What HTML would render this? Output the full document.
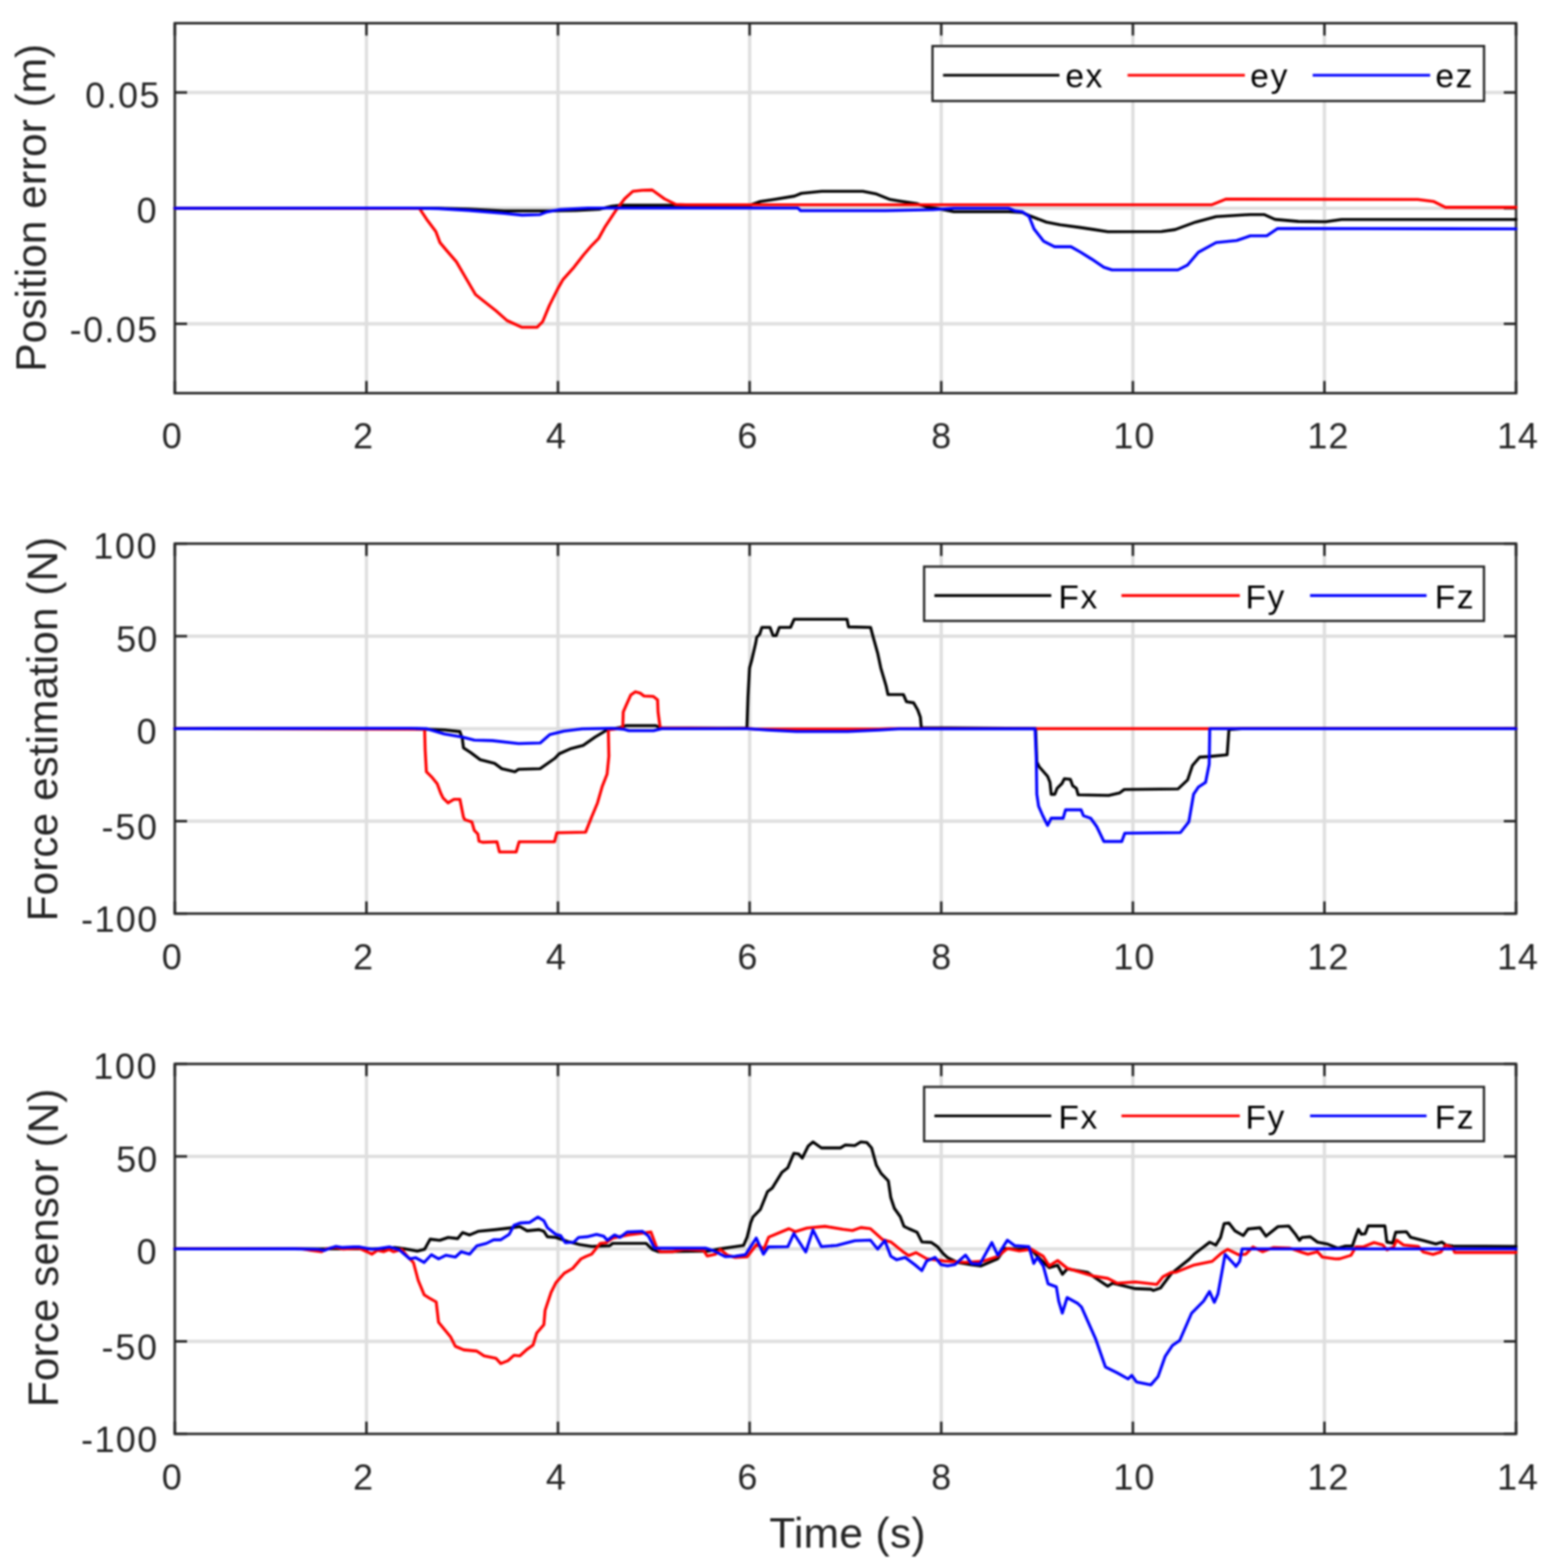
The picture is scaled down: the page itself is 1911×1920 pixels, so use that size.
<!DOCTYPE html><html><head><meta charset="utf-8"><title>Position error and force plots</title><style>html,body{margin:0;padding:0;background:#fff;overflow:hidden}svg{display:block}text{font-family:"Liberation Sans", Arial, Helvetica, sans-serif;fill:#262626}svg{filter:blur(0.8px)}</style></head><body>
<svg width="1911" height="1920" viewBox="0 0 1911 1920">
<rect width="1911" height="1920" fill="#fff"/>
<path d="M448.6 28.4V481.4M683.1 28.4V481.4M917.7 28.4V481.4M1152.3 28.4V481.4M1386.9 28.4V481.4M1621.4 28.4V481.4M214.0 113.3H1856.0M214.0 254.9H1856.0M214.0 396.5H1856.0" stroke="#dedede" stroke-width="4.0" fill="none"/>
<path d="M214.0 481.4V466.4M214.0 28.4V43.4M448.6 481.4V466.4M448.6 28.4V43.4M683.1 481.4V466.4M683.1 28.4V43.4M917.7 481.4V466.4M917.7 28.4V43.4M1152.3 481.4V466.4M1152.3 28.4V43.4M1386.9 481.4V466.4M1386.9 28.4V43.4M1621.4 481.4V466.4M1621.4 28.4V43.4M1856.0 481.4V466.4M1856.0 28.4V43.4M214.0 113.3H229.0M1856.0 113.3H1841.0M214.0 254.9H229.0M1856.0 254.9H1841.0M214.0 396.5H229.0M1856.0 396.5H1841.0" stroke="#262626" stroke-width="3.0" fill="none"/>
<rect x="214.0" y="28.4" width="1642.0" height="453.0" fill="none" stroke="#262626" stroke-width="3.0"/>
<path d="M214.0 255.0L520.0 255.0L536.6 255.0L573.3 256.1L617.2 258.3L675.8 258.3L705.1 257.6L734.4 256.1L749.0 252.5L760.0 251.3L919.0 251.0L930.7 246.8L947.4 244.3L972.6 240.1L981.0 236.8L1006.0 234.3L1056.3 234.3L1073.0 237.6L1089.8 244.3L1100.0 246.0L1121.9 249.3L1134.2 253.4L1150.9 255.9L1167.7 259.3L1234.7 259.3L1251.4 260.1L1260.0 264.0L1281.0 272.0L1297.7 275.3L1322.8 278.6L1339.5 281.1L1356.3 283.7L1421.9 283.5L1438.6 281.1L1463.7 271.9L1488.8 265.2L1530.7 262.7L1547.4 262.7L1560.8 268.6L1589.3 271.1L1622.8 271.5L1642.4 268.7L1856.0 268.7" fill="none" stroke="#000000" stroke-width="3.6" stroke-linejoin="round" stroke-linecap="round"/>
<path d="M214.0 255.0L513.5 255.3L523.5 270.2L533.6 283.6L538.6 297.0L547.0 307.0L558.7 320.5L570.4 340.6L582.1 360.7L590.5 367.4L607.3 380.7L620.7 392.5L639.1 400.8L657.5 400.8L664.2 394.1L672.6 374.0L682.6 354.0L689.3 342.2L702.7 327.2L714.4 312.1L724.5 300.4L732.8 292.0L741.2 276.9L754.6 256.8L764.7 243.4L774.7 234.2L786.4 233.0L798.4 232.6L813.5 243.5L826.9 250.2L840.0 250.8L1483.8 250.7L1500.6 243.8L1735.6 244.2L1755.4 246.8L1769.5 253.9L1856.0 253.9" fill="none" stroke="#ff0000" stroke-width="3.6" stroke-linejoin="round" stroke-linecap="round"/>
<path d="M214.0 255.0L500.0 254.7L536.6 255.4L573.3 257.6L617.2 261.2L639.2 263.4L661.2 262.7L668.5 259.8L683.2 256.9L719.8 254.8L976.8 254.7L980.0 258.0L1084.0 258.0L1142.6 256.7L1167.7 255.0L1234.7 255.0L1243.0 258.4L1251.4 259.3L1259.8 265.1L1265.9 280.3L1277.6 295.4L1291.0 302.1L1311.1 302.1L1322.8 308.8L1336.2 317.1L1351.3 327.2L1361.3 330.5L1442.0 330.5L1453.7 324.7L1467.1 308.8L1488.8 297.0L1514.0 294.5L1530.7 288.7L1550.8 288.7L1564.2 279.8L1856.0 280.3" fill="none" stroke="#0000ff" stroke-width="3.6" stroke-linejoin="round" stroke-linecap="round"/>
<rect x="1141.6" y="56.4" width="675.2" height="67.3" fill="#fff" stroke="#262626" stroke-width="2.8"/>
<path d="M1154.5 92.1H1297.0" stroke="#000000" stroke-width="3.4"/>
<path d="M1380.4 92.1H1524.0" stroke="#ff0000" stroke-width="3.4"/>
<path d="M1607.0 92.1H1750.8" stroke="#0000ff" stroke-width="3.4"/>
<path d="M448.6 665.7V1118.7M683.1 665.7V1118.7M917.7 665.7V1118.7M1152.3 665.7V1118.7M1386.9 665.7V1118.7M1621.4 665.7V1118.7M214.0 779.0H1856.0M214.0 892.2H1856.0M214.0 1005.5H1856.0" stroke="#dedede" stroke-width="4.0" fill="none"/>
<path d="M214.0 1118.7V1103.7M214.0 665.7V680.7M448.6 1118.7V1103.7M448.6 665.7V680.7M683.1 1118.7V1103.7M683.1 665.7V680.7M917.7 1118.7V1103.7M917.7 665.7V680.7M1152.3 1118.7V1103.7M1152.3 665.7V680.7M1386.9 1118.7V1103.7M1386.9 665.7V680.7M1621.4 1118.7V1103.7M1621.4 665.7V680.7M1856.0 1118.7V1103.7M1856.0 665.7V680.7M214.0 665.7H229.0M1856.0 665.7H1841.0M214.0 779.0H229.0M1856.0 779.0H1841.0M214.0 892.2H229.0M1856.0 892.2H1841.0M214.0 1005.5H229.0M1856.0 1005.5H1841.0M214.0 1118.7H229.0M1856.0 1118.7H1841.0" stroke="#262626" stroke-width="3.0" fill="none"/>
<rect x="214.0" y="665.7" width="1642.0" height="453.0" fill="none" stroke="#262626" stroke-width="3.0"/>
<path d="M214.0 892.2L500.0 892.0L544.0 893.7L563.0 895.9L565.9 904.0L567.4 915.7L576.2 921.5L587.9 930.3L605.5 934.7L614.3 941.3L630.4 945.0L634.8 942.0L661.2 941.3L678.8 928.9L684.6 923.0L697.8 917.1L713.9 912.7L728.6 902.5L743.2 893.7L763.0 890.0L766.0 888.5L803.0 888.5L808.0 891.5L914.4 891.5L915.7 853.0L917.6 817.9L920.1 809.1L925.1 787.7L926.4 780.2L930.1 776.4L932.7 768.3L942.7 768.3L946.5 778.3L950.2 778.3L954.0 768.3L967.8 768.3L972.2 758.2L1036.9 758.2L1038.8 767.6L1065.8 768.3L1068.3 777.7L1074.6 800.3L1078.3 817.9L1084.6 839.2L1087.1 850.5L1106.0 850.5L1109.7 859.3L1118.5 860.6L1123.5 869.4L1126.7 878.1L1127.9 891.0L1267.8 892.0L1269.3 933.0L1272.2 938.9L1282.5 950.6L1285.4 957.9L1286.9 972.6L1291.3 972.6L1294.2 965.2L1300.1 959.4L1303.0 953.5L1310.3 954.2L1313.3 962.3L1317.7 965.2L1319.9 973.3L1357.2 974.0L1370.4 971.1L1376.3 966.7L1442.2 966.0L1453.9 955.0L1459.8 937.4L1468.6 927.1L1480.3 926.4L1502.3 924.2L1504.5 893.4L1520.0 892.2L1856.0 892.2" fill="none" stroke="#000000" stroke-width="3.6" stroke-linejoin="round" stroke-linecap="round"/>
<path d="M214.0 892.2L519.8 893.0L520.5 918.6L522.0 945.0L529.3 952.3L535.2 959.6L539.6 971.4L542.5 977.2L548.4 983.1L555.7 978.7L563.0 978.7L567.4 1000.7L568.9 1003.6L577.7 1006.5L580.6 1016.8L585.0 1021.2L586.4 1030.0L590.8 1031.4L608.4 1030.7L611.4 1043.2L631.9 1043.2L635.5 1030.7L678.8 1030.7L681.7 1019.7L716.9 1019.0L724.2 1000.7L731.5 983.1L737.4 962.6L743.2 947.9L745.4 925.9L744.7 893.7L762.4 891.4L763.0 871.8L766.5 863.7L772.2 851.1L778.0 847.1L783.7 848.8L788.4 852.2L799.9 852.8L805.0 856.8L805.6 871.8L807.9 889.1L809.0 891.4L915.0 892.0L925.0 892.8L1076.0 892.8L1090.0 892.2L1856.0 892.2" fill="none" stroke="#ff0000" stroke-width="3.6" stroke-linejoin="round" stroke-linecap="round"/>
<path d="M214.0 892.2L500.0 891.8L522.0 892.2L544.0 898.8L565.9 902.5L580.6 906.2L602.6 906.9L634.8 910.5L661.2 909.8L672.9 899.6L690.5 895.2L712.5 892.5L749.1 891.8L763.7 893.0L770.0 894.8L800.0 894.8L810.0 892.2L915.0 892.2L940.0 894.0L975.0 895.8L1038.0 895.8L1076.0 894.0L1100.0 892.5L1267.1 892.2L1268.6 928.6L1269.3 972.6L1271.5 987.2L1276.6 998.9L1282.5 1010.7L1286.9 1001.9L1301.5 1001.9L1304.5 991.6L1323.5 991.6L1326.4 998.9L1335.2 1001.9L1342.6 1012.1L1351.4 1030.4L1373.3 1030.4L1377.0 1020.2L1445.1 1019.5L1455.4 1006.3L1461.2 972.6L1467.1 963.8L1475.9 957.9L1480.3 935.9L1481.0 892.2L1856.0 892.2" fill="none" stroke="#0000ff" stroke-width="3.6" stroke-linejoin="round" stroke-linecap="round"/>
<rect x="1131.3" y="693.8" width="685.4" height="66.5" fill="#fff" stroke="#262626" stroke-width="2.8"/>
<path d="M1143.9 729.3H1287.0" stroke="#000000" stroke-width="3.4"/>
<path d="M1372.9 729.3H1517.8" stroke="#ff0000" stroke-width="3.4"/>
<path d="M1603.8 729.3H1746.4" stroke="#0000ff" stroke-width="3.4"/>
<path d="M448.6 1302.8V1755.8M683.1 1302.8V1755.8M917.7 1302.8V1755.8M1152.3 1302.8V1755.8M1386.9 1302.8V1755.8M1621.4 1302.8V1755.8M214.0 1416.0H1856.0M214.0 1529.3H1856.0M214.0 1642.5H1856.0" stroke="#dedede" stroke-width="4.0" fill="none"/>
<path d="M214.0 1755.8V1740.8M214.0 1302.8V1317.8M448.6 1755.8V1740.8M448.6 1302.8V1317.8M683.1 1755.8V1740.8M683.1 1302.8V1317.8M917.7 1755.8V1740.8M917.7 1302.8V1317.8M1152.3 1755.8V1740.8M1152.3 1302.8V1317.8M1386.9 1755.8V1740.8M1386.9 1302.8V1317.8M1621.4 1755.8V1740.8M1621.4 1302.8V1317.8M1856.0 1755.8V1740.8M1856.0 1302.8V1317.8M214.0 1302.8H229.0M1856.0 1302.8H1841.0M214.0 1416.0H229.0M1856.0 1416.0H1841.0M214.0 1529.3H229.0M1856.0 1529.3H1841.0M214.0 1642.5H229.0M1856.0 1642.5H1841.0M214.0 1755.8H229.0M1856.0 1755.8H1841.0" stroke="#262626" stroke-width="3.0" fill="none"/>
<rect x="214.0" y="1302.8" width="1642.0" height="453.0" fill="none" stroke="#262626" stroke-width="3.0"/>
<path d="M214.0 1529.3L470.0 1529.3L483.1 1527.6L494.8 1529.1L510.9 1532.0L519.7 1529.8L526.6 1517.4L538.4 1518.8L548.6 1515.2L560.3 1516.6L566.2 1509.3L575.0 1512.2L585.2 1507.8L607.2 1505.6L626.3 1503.4L636.5 1502.0L645.3 1507.1L660.0 1505.6L665.8 1507.8L670.2 1514.4L680.5 1515.2L695.1 1520.3L709.8 1524.0L724.4 1526.2L746.4 1525.4L750.0 1522.5L791.0 1522.5L798.4 1529.8L805.7 1532.7L867.2 1532.0L881.9 1529.1L900.0 1526.5L910.3 1525.0L914.7 1514.8L919.0 1497.2L922.0 1489.9L930.8 1481.1L939.6 1459.1L945.4 1454.7L957.1 1435.7L964.5 1429.8L971.8 1412.2L977.7 1413.0L982.1 1418.1L989.4 1403.4L995.2 1398.3L1005.5 1405.6L1028.9 1405.6L1034.8 1402.0L1046.5 1402.7L1053.8 1398.3L1061.2 1399.0L1067.0 1405.6L1072.9 1426.9L1078.8 1437.1L1087.5 1445.9L1090.5 1466.4L1094.9 1479.6L1102.2 1489.9L1106.6 1501.6L1112.5 1504.5L1122.7 1508.9L1128.6 1520.7L1140.3 1521.4L1147.6 1526.5L1155.0 1535.3L1160.0 1539.8L1171.7 1545.7L1189.3 1548.6L1201.0 1550.1L1221.5 1541.3L1230.3 1528.8L1247.9 1529.6L1262.6 1529.6L1269.9 1538.4L1284.5 1552.3L1294.8 1549.3L1300.7 1560.3L1306.4 1553.7L1331.3 1558.1L1343.2 1566.2L1356.2 1574.9L1362.1 1571.3L1389.9 1577.9L1408.9 1578.6L1412.0 1580.1L1420.7 1577.1L1433.8 1559.6L1455.8 1542.0L1462.0 1535.7L1481.0 1521.0L1488.4 1524.7L1494.2 1515.2L1498.6 1498.3L1504.5 1497.6L1511.8 1507.1L1522.1 1513.0L1527.9 1504.9L1542.6 1503.4L1549.9 1513.7L1564.5 1502.0L1577.7 1501.2L1586.5 1512.2L1590.9 1518.8L1593.8 1515.2L1604.1 1514.4L1612.9 1521.0L1624.6 1523.2L1637.8 1528.4L1647.2 1525.7L1655.6 1525.7L1659.3 1514.9L1662.9 1505.3L1666.5 1511.3L1671.3 1510.7L1674.9 1501.1L1695.4 1501.1L1697.8 1520.9L1705.0 1522.1L1708.6 1508.9L1721.8 1508.3L1726.7 1514.9L1742.3 1519.1L1757.9 1523.3L1765.2 1520.9L1770.0 1524.5L1778.4 1525.7L1856.0 1526.3" fill="none" stroke="#000000" stroke-width="3.6" stroke-linejoin="round" stroke-linecap="round"/>
<path d="M214.0 1529.3L370.0 1529.3L380.0 1531.0L393.7 1532.7L400.0 1529.0L411.3 1527.5L420.0 1529.5L440.0 1528.5L450.0 1533.0L455.2 1535.7L462.0 1531.0L469.9 1532.7L476.0 1530.0L481.6 1532.7L491.9 1529.8L498.8 1538.6L506.1 1545.9L512.0 1567.9L519.3 1585.5L525.2 1589.2L534.0 1594.3L536.9 1619.2L551.5 1636.8L557.4 1648.5L567.7 1652.9L583.8 1654.4L592.6 1660.2L607.2 1663.2L613.1 1669.7L621.9 1666.1L629.2 1659.5L636.5 1660.2L645.3 1652.2L652.6 1647.0L657.0 1632.4L665.8 1622.1L667.3 1604.5L674.6 1582.6L680.5 1570.8L690.7 1559.1L701.0 1553.3L711.2 1541.5L717.1 1538.6L724.4 1535.7L734.7 1522.5L742.0 1521.8L750.0 1516.0L770.0 1512.0L796.9 1508.6L804.2 1528.4L808.6 1532.7L823.3 1532.7L837.9 1529.8L861.4 1531.3L865.8 1537.9L876.0 1535.7L881.9 1529.8L890.7 1537.1L900.0 1539.7L914.7 1539.0L926.4 1523.6L935.2 1529.5L941.0 1514.8L965.9 1504.5L973.3 1508.2L987.9 1503.8L1009.9 1501.6L1031.9 1505.3L1043.6 1506.7L1053.8 1503.1L1065.6 1504.5L1080.2 1517.7L1090.5 1520.7L1105.1 1532.4L1112.5 1537.5L1121.3 1533.8L1134.4 1541.2L1156.4 1544.1L1182.0 1545.7L1204.0 1544.2L1221.5 1538.4L1233.3 1528.8L1247.9 1531.8L1262.6 1529.6L1277.2 1538.4L1284.5 1550.1L1294.8 1543.5L1306.5 1553.0L1338.6 1562.5L1356.2 1565.4L1367.9 1571.3L1389.9 1569.8L1416.3 1572.7L1423.7 1563.3L1433.8 1558.1L1440.0 1557.7L1462.0 1548.9L1484.0 1544.5L1495.7 1534.2L1503.0 1529.8L1516.2 1536.4L1525.0 1535.7L1533.8 1526.9L1545.5 1532.7L1558.7 1527.6L1579.2 1528.4L1593.8 1533.5L1601.2 1535.7L1612.9 1532.7L1618.8 1539.3L1634.9 1541.5L1640.0 1541.4L1653.9 1537.1L1659.8 1526.9L1668.6 1526.9L1682.1 1521.5L1693.0 1524.5L1697.8 1530.5L1706.2 1526.9L1709.8 1518.5L1718.2 1524.5L1736.3 1526.3L1742.3 1533.0L1754.3 1536.0L1764.0 1533.0L1770.0 1524.5L1778.4 1528.1L1780.8 1533.6L1856.0 1533.6" fill="none" stroke="#ff0000" stroke-width="3.6" stroke-linejoin="round" stroke-linecap="round"/>
<path d="M214.0 1529.3L360.0 1529.1L389.3 1529.8L396.6 1531.3L404.0 1528.4L411.3 1526.2L418.6 1527.6L433.3 1526.9L440.6 1526.9L455.2 1529.8L462.6 1529.1L477.2 1526.9L488.9 1530.5L494.8 1535.7L501.7 1541.5L509.0 1540.1L519.3 1545.9L528.1 1536.4L536.9 1541.5L545.7 1537.1L557.4 1539.3L564.7 1532.7L575.0 1535.7L583.8 1525.4L595.5 1522.5L604.3 1518.1L613.1 1518.1L623.3 1511.5L629.2 1500.5L636.5 1497.6L648.2 1496.9L658.5 1490.3L665.8 1494.7L670.2 1503.4L680.5 1511.5L686.3 1513.0L692.2 1521.8L702.5 1521.0L708.3 1515.2L718.6 1514.4L730.3 1511.5L739.1 1513.7L743.5 1518.8L752.3 1512.2L758.8 1515.2L767.6 1508.6L786.6 1507.8L794.0 1513.7L801.3 1528.4L864.3 1528.4L874.5 1532.0L887.7 1538.6L900.0 1538.2L912.6 1536.4L925.8 1515.9L934.6 1535.7L940.5 1526.9L964.5 1526.5L971.8 1510.4L986.4 1533.1L995.2 1506.0L1005.5 1526.5L1024.5 1525.0L1046.5 1519.2L1065.6 1518.5L1074.4 1529.5L1083.2 1519.2L1090.5 1538.2L1097.8 1542.6L1108.1 1539.7L1119.8 1548.5L1128.6 1555.8L1134.4 1544.1L1144.7 1539.7L1152.0 1548.5L1160.0 1550.1L1168.8 1548.6L1182.0 1536.9L1189.3 1547.1L1199.6 1547.9L1214.2 1521.5L1221.5 1536.9L1233.3 1518.6L1242.1 1525.2L1259.6 1526.6L1265.5 1547.1L1269.9 1539.8L1277.2 1550.1L1283.1 1572.0L1293.2 1575.7L1296.1 1593.3L1300.5 1607.9L1306.4 1588.9L1319.6 1596.2L1324.0 1600.6L1341.5 1640.1L1353.3 1673.8L1367.9 1681.2L1381.1 1688.5L1385.5 1684.1L1391.4 1692.2L1408.9 1695.8L1417.7 1685.6L1426.5 1660.7L1435.3 1647.5L1444.1 1641.6L1458.8 1607.9L1473.4 1593.3L1480.7 1581.5L1486.6 1594.7L1491.0 1584.5L1499.8 1536.1L1511.8 1548.9L1513.0 1550.8L1517.7 1544.5L1520.6 1529.3L1856.0 1529.3" fill="none" stroke="#0000ff" stroke-width="3.6" stroke-linejoin="round" stroke-linecap="round"/>
<rect x="1131.3" y="1330.9" width="685.4" height="66.5" fill="#fff" stroke="#262626" stroke-width="2.8"/>
<path d="M1143.9 1366.4H1287.0" stroke="#000000" stroke-width="3.4"/>
<path d="M1372.9 1366.4H1517.8" stroke="#ff0000" stroke-width="3.4"/>
<path d="M1603.8 1366.4H1746.4" stroke="#0000ff" stroke-width="3.4"/>
<text x="198.1" y="549.2" font-size="44" letter-spacing="1.2">0</text>
<text x="432.2" y="549.2" font-size="44" letter-spacing="1.2">2</text>
<text x="668.3" y="549.2" font-size="44" letter-spacing="1.2">4</text>
<text x="902.7" y="549.2" font-size="44" letter-spacing="1.2">6</text>
<text x="1140.0" y="549.2" font-size="44" letter-spacing="1.2">8</text>
<text x="1363.0" y="549.2" font-size="44" letter-spacing="1.2">10</text>
<text x="1600.5" y="549.2" font-size="44" letter-spacing="1.2">12</text>
<text x="1832.7" y="549.2" font-size="44" letter-spacing="1.2">14</text>
<text x="104.3" y="131.8" font-size="44" letter-spacing="1.8">0.05</text>
<text x="167.3" y="273.4" font-size="44" letter-spacing="1.2">0</text>
<text x="85.3" y="418.7" font-size="44" letter-spacing="1.7">-0.05</text>
<text x="198.1" y="1186.5" font-size="44" letter-spacing="1.2">0</text>
<text x="432.2" y="1186.5" font-size="44" letter-spacing="1.2">2</text>
<text x="668.3" y="1186.5" font-size="44" letter-spacing="1.2">4</text>
<text x="902.7" y="1186.5" font-size="44" letter-spacing="1.2">6</text>
<text x="1140.0" y="1186.5" font-size="44" letter-spacing="1.2">8</text>
<text x="1363.0" y="1186.5" font-size="44" letter-spacing="1.2">10</text>
<text x="1600.5" y="1186.5" font-size="44" letter-spacing="1.2">12</text>
<text x="1832.7" y="1186.5" font-size="44" letter-spacing="1.2">14</text>
<text x="114.3" y="684.2" font-size="44" letter-spacing="2.0">100</text>
<text x="142.3" y="797.5" font-size="44" letter-spacing="1.2">50</text>
<text x="167.3" y="910.7" font-size="44" letter-spacing="1.2">0</text>
<text x="124.3" y="1027.7" font-size="44" letter-spacing="2.2">-50</text>
<text x="99.3" y="1140.9" font-size="44" letter-spacing="1.7">-100</text>
<text x="198.1" y="1823.6" font-size="44" letter-spacing="1.2">0</text>
<text x="432.2" y="1823.6" font-size="44" letter-spacing="1.2">2</text>
<text x="668.3" y="1823.6" font-size="44" letter-spacing="1.2">4</text>
<text x="902.7" y="1823.6" font-size="44" letter-spacing="1.2">6</text>
<text x="1140.0" y="1823.6" font-size="44" letter-spacing="1.2">8</text>
<text x="1363.0" y="1823.6" font-size="44" letter-spacing="1.2">10</text>
<text x="1600.5" y="1823.6" font-size="44" letter-spacing="1.2">12</text>
<text x="1832.7" y="1823.6" font-size="44" letter-spacing="1.2">14</text>
<text x="114.3" y="1321.3" font-size="44" letter-spacing="2.0">100</text>
<text x="142.3" y="1434.5" font-size="44" letter-spacing="1.2">50</text>
<text x="167.3" y="1547.8" font-size="44" letter-spacing="1.2">0</text>
<text x="124.3" y="1664.8" font-size="44" letter-spacing="2.2">-50</text>
<text x="99.3" y="1778.0" font-size="44" letter-spacing="1.7">-100</text>
<text transform="translate(56.0 455.2) rotate(-90)" font-size="52">Position error (m)</text>
<text transform="translate(70.2 1128.2) rotate(-90)" font-size="52">Force estimation (N)</text>
<text transform="translate(70.5 1723.0) rotate(-90)" font-size="52">Force sensor (N)</text>
<text x="941.7" y="1895.3" font-size="52" letter-spacing="0.4">Time (s)</text>
<text x="1304.3" y="107.4" font-size="41" letter-spacing="2" style="fill:#000">ex</text>
<text x="1530.6" y="107.4" font-size="41" letter-spacing="2" style="fill:#000">ey</text>
<text x="1757.2" y="107.4" font-size="41" letter-spacing="2" style="fill:#000">ez</text>
<text x="1295.7" y="745.0" font-size="41" letter-spacing="2" style="fill:#000">Fx</text>
<text x="1524.8" y="745.0" font-size="41" letter-spacing="2" style="fill:#000">Fy</text>
<text x="1756.4" y="745.0" font-size="41" letter-spacing="2" style="fill:#000">Fz</text>
<text x="1295.7" y="1382.1" font-size="41" letter-spacing="2" style="fill:#000">Fx</text>
<text x="1524.8" y="1382.1" font-size="41" letter-spacing="2" style="fill:#000">Fy</text>
<text x="1756.4" y="1382.1" font-size="41" letter-spacing="2" style="fill:#000">Fz</text>
</svg></body></html>
